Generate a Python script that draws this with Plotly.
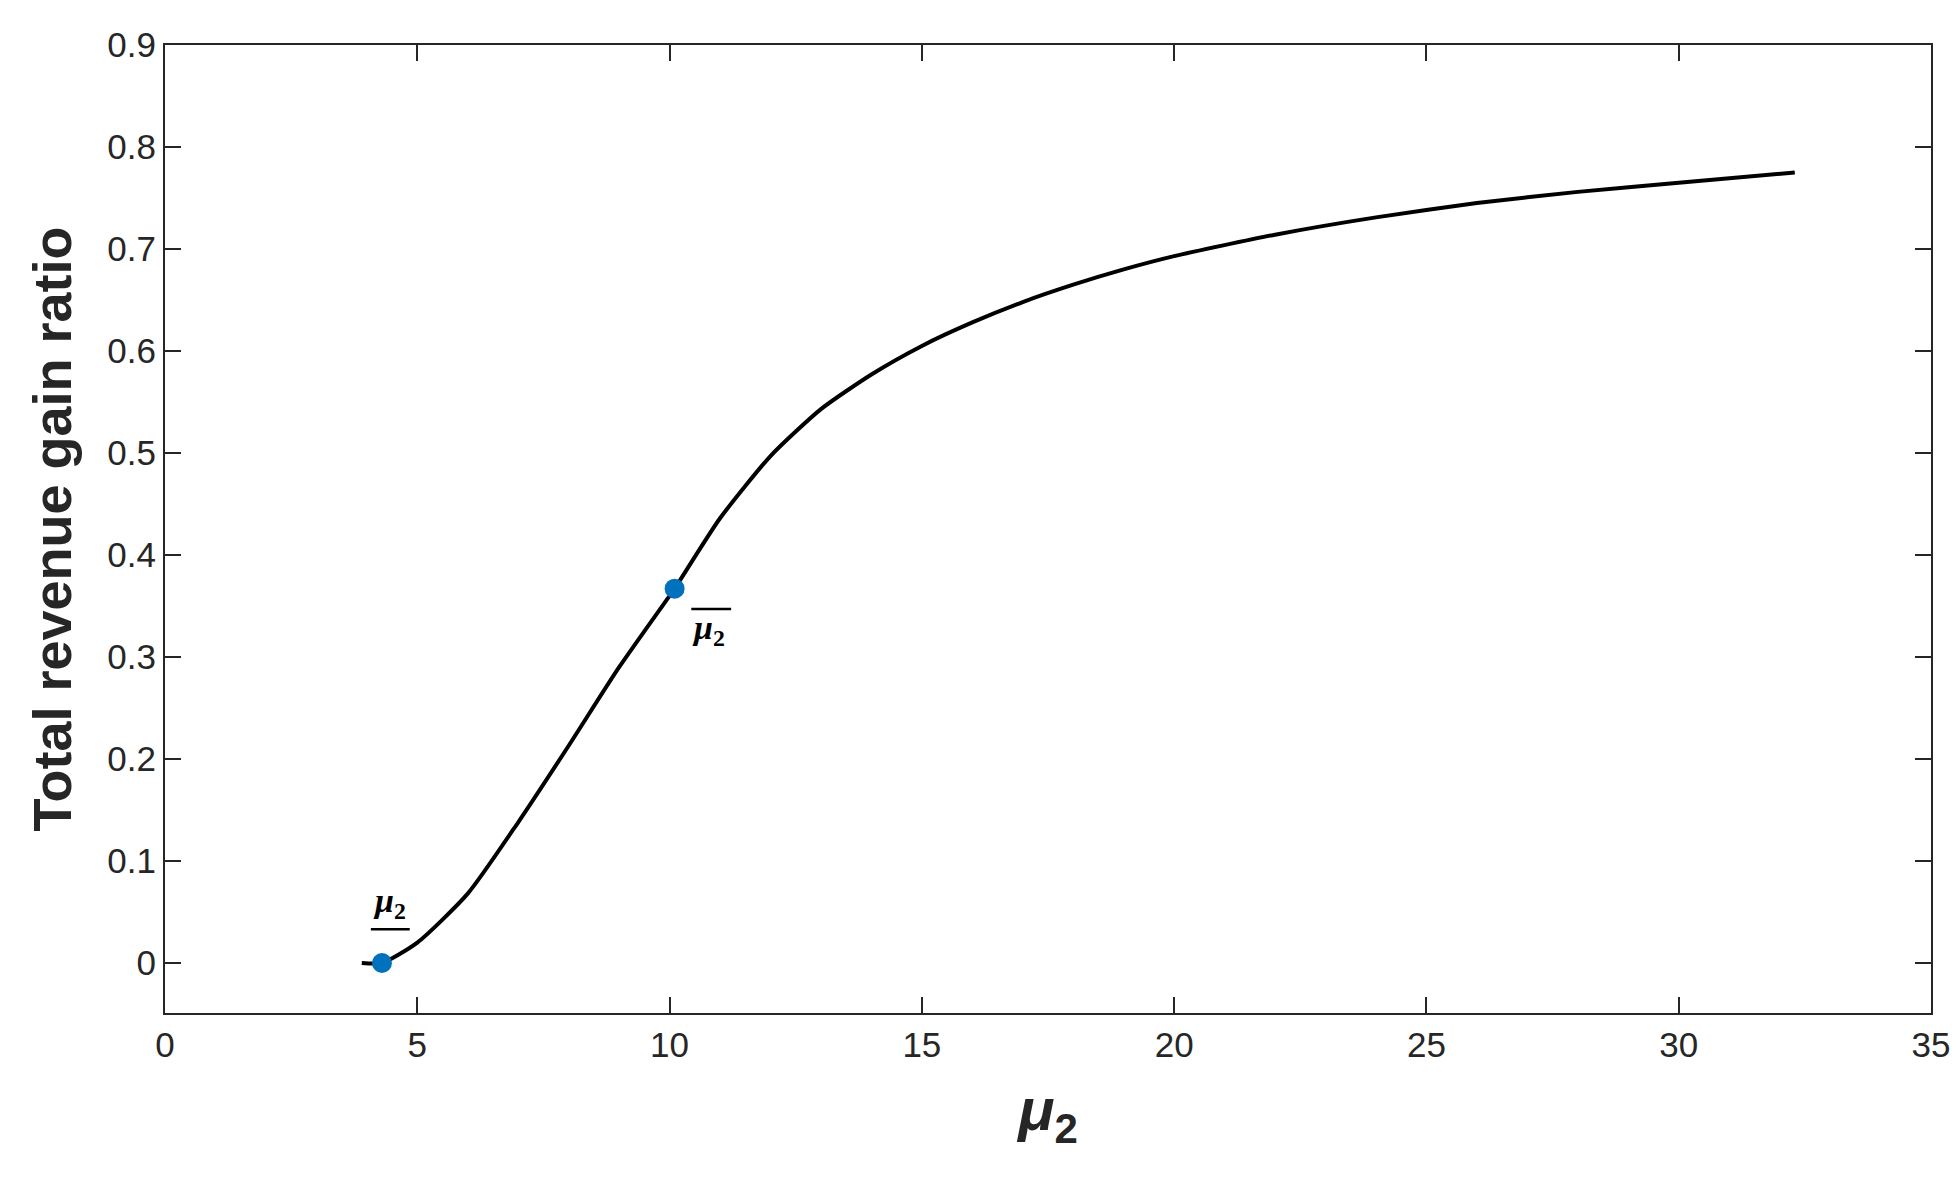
import plotly.graph_objects as go

mu2 = [3.9, 4.3, 5, 6, 7, 8, 9, 10, 10.1, 11, 12, 13, 14, 15, 16, 17, 18, 19, 20, 22, 24, 26, 28, 30, 32.3]
ratio = [0.0, 0.0, 0.02, 0.068, 0.138, 0.213, 0.29, 0.36, 0.367, 0.436, 0.497, 0.543, 0.577, 0.605, 0.628, 0.648, 0.665, 0.68, 0.693, 0.714, 0.731, 0.745, 0.756, 0.765, 0.775]
pt_x = [4.3, 10.1]
pt_y = [0.0, 0.367]
ytick_vals = [0, 0.1, 0.2, 0.3, 0.4, 0.5, 0.6, 0.7, 0.8, 0.9]
ytick_text = ["0", "0.1", "0.2", "0.3", "0.4", "0.5", "0.6", "0.7", "0.8", "0.9"]

fig = go.Figure()
fig.add_trace(go.Scatter(x=mu2, y=ratio, mode="lines", line=dict(color="black", width=4, shape="spline", smoothing=0.6), showlegend=False))
fig.add_trace(go.Scatter(x=pt_x, y=pt_y, mode="markers", marker=dict(color="#0072BD", size=20), showlegend=False))

lab = "<b><i>μ</i><sub>2</sub></b>"
fig.add_annotation(x=pt_x[0] + 0.15, y=pt_y[0] + 0.036, text=lab, showarrow=False, yanchor="bottom", font=dict(size=34, color="black", family="Liberation Serif"))
fig.add_annotation(x=pt_x[1] + 0.3, y=pt_y[1] - 0.018, text=lab, showarrow=False, xanchor="left", yanchor="top", font=dict(size=34, color="black", family="Liberation Serif"))
fig.add_shape(type="line", x0=pt_x[0] - 0.22, x1=pt_x[0] + 0.55, y0=0.033, y1=0.033, line=dict(color="black", width=2.5))
fig.add_shape(type="line", x0=pt_x[1] + 0.33, x1=pt_x[1] + 1.12, y0=pt_y[1] - 0.02, y1=pt_y[1] - 0.02, line=dict(color="black", width=2.5))

ax = dict(showline=True, linecolor="#262626", linewidth=2, mirror="ticks", ticks="inside", ticklen=16, tickwidth=1.5, tickcolor="#262626", showgrid=False, zeroline=False, tickfont=dict(size=35, color="#262626", family="Liberation Sans"))
fig.update_xaxes(range=[0, 35], dtick=5, title=dict(text="<b><i>μ</i><sub>2</sub></b>", font=dict(size=60, color="#262626", family="Liberation Sans"), standoff=25), **ax)
fig.update_yaxes(range=[-0.049, 0.9], tickvals=ytick_vals, ticktext=ytick_text, title=dict(text="<b>Total revenue gain ratio</b>", font=dict(size=54, color="#262626", family="Liberation Sans"), standoff=18), **ax)
fig.update_layout(width=1960, height=1196, margin=dict(l=157, r=37, t=37, b=191), plot_bgcolor="white", paper_bgcolor="white")
fig.write_html("out.html")
